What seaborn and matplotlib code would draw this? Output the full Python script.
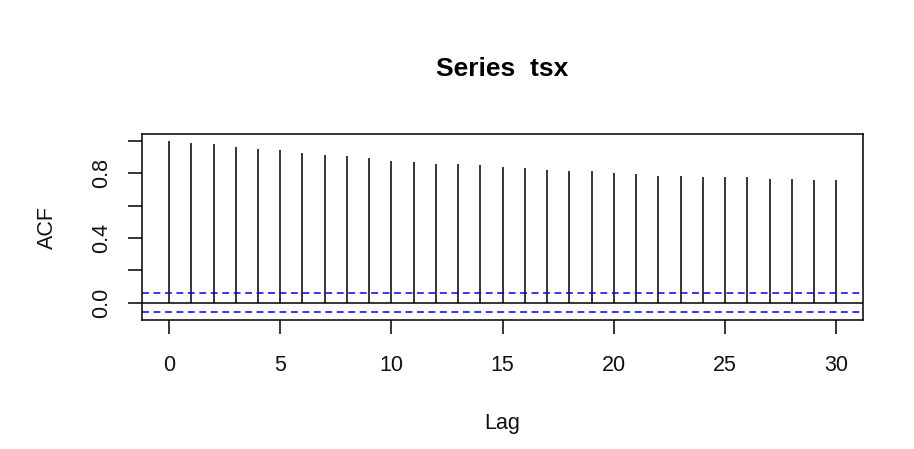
import numpy as np
import pandas as pd
import seaborn as sns
import matplotlib
matplotlib.use("Agg")
import matplotlib.pyplot as plt

# valori (ACF per lag 0..30)
lags = list(range(31))
acf_vals = [1.000, 0.990, 0.979, 0.961, 0.952, 0.942, 0.924, 0.913, 0.905, 0.897,
            0.878, 0.868, 0.857, 0.857, 0.849, 0.839, 0.831, 0.822, 0.812, 0.812,
            0.802, 0.793, 0.785, 0.785, 0.775, 0.775, 0.775, 0.767, 0.767, 0.756,
            0.756]
conf_bound = 0.06
x_ticks = [0, 5, 10, 15, 20, 25, 30]
y_ticks = [0.0, 0.2, 0.4, 0.6, 0.8, 1.0]
y_labels = ['0.0', '', '0.4', '', '0.8', '']

df = pd.DataFrame({'Lag': lags, 'ACF': acf_vals})

sns.set_style("white")
plt.rcParams['font.family'] = ['Liberation Sans', 'DejaVu Sans']
plt.rcParams['text.color'] = 'black'

fig = plt.figure(figsize=(9.14, 4.49), dpi=100)
ax = fig.add_axes([0.155, 0.2873, 0.7897, 0.4137])

ax.vlines(df['Lag'], 0, df['ACF'], color='black', linewidth=1.1)
ax.axhline(0, color='black', linewidth=1.1)
for b in (conf_bound, -conf_bound):
    ax.axhline(b, color='#0000FF', linewidth=1.1, linestyle=(0, (4.5, 3)))

ax.set_xlim(-1.23, 31.22)
ax.set_ylim(-0.107, 1.0415)

ax.set_xticks(x_ticks)
ax.set_xticklabels([str(t) for t in x_ticks])
ax.set_yticks(y_ticks)
ax.set_yticklabels(y_labels, rotation=90, va='center')
ax.tick_params(axis='both', direction='out', length=10, width=1.1, color='black',
               labelsize=15.5, labelcolor='#111111', left=True, bottom=True)
ax.tick_params(axis='x', pad=15)
ax.tick_params(axis='y', pad=11)

for s in ax.spines.values():
    s.set_color('black')
    s.set_linewidth(1.1)
    s.set_visible(True)

ax.set_xlabel('Lag', fontsize=15.5, labelpad=27, color='#111111')
ax.set_ylabel('ACF', fontsize=15.5, labelpad=24, color='#111111')
fig.text(0.549, 0.846, 'Series  tsx', ha='center', va='center',
         fontsize=19, fontweight='bold', color='black')

fig.savefig('out.png', dpi=100)
